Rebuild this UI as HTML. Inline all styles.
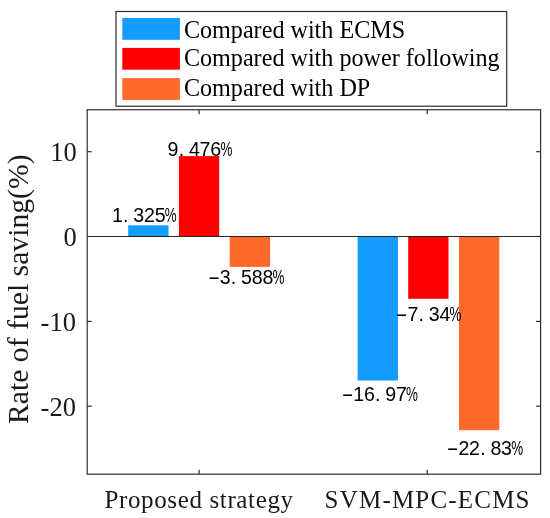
<!DOCTYPE html>
<html>
<head>
<meta charset="utf-8">
<title>Rate of fuel saving</title>
<style>
html,body{margin:0;padding:0;background:#fff;}
body{width:550px;height:518px;overflow:hidden;position:relative;}
svg{position:absolute;left:0;top:0;display:block;}
.serif{font-family:"Liberation Serif","Times New Roman",serif;fill:#1a1a1a;font-kerning:none;}
.tick{font-size:26.5px;}
.xtick{font-size:25px;}
.leg{font-size:24.15px;fill:#000;}
.ylab{font-size:29.7px;}
.val{font-family:"Liberation Sans",Arial,sans-serif;font-size:19.6px;fill:#000;}
</style>
</head>
<body>
<svg width="550" height="518" viewBox="0 0 550 518">
  <rect x="0" y="0" width="550" height="518" fill="#ffffff"/>

  <!-- bars -->
  <rect x="128.2" y="225.3" width="40.3" height="11.2" fill="#149cff"/>
  <rect x="178.9" y="156.1" width="40.3" height="80.4" fill="#ff0000"/>
  <rect x="229.7" y="236.5" width="40.3" height="30.4" fill="#ff6a2b"/>
  <rect x="357.6" y="236.5" width="40.3" height="144.0" fill="#149cff"/>
  <rect x="408.2" y="236.5" width="40.3" height="62.3" fill="#ff0000"/>
  <rect x="459.0" y="236.5" width="40.3" height="193.7" fill="#ff6a2b"/>

  <!-- axes box, zero line and ticks -->
  <g stroke="#262626" stroke-width="1.15" fill="none">
    <rect x="87.2" y="109.75" width="453.4" height="364.4"/>
    <line x1="87.2" y1="236.5" x2="540.6" y2="236.5"/>
    <line x1="87.2" y1="151.7" x2="91.7" y2="151.7"/>
    <line x1="87.2" y1="321.4" x2="91.7" y2="321.4"/>
    <line x1="87.2" y1="406.2" x2="91.7" y2="406.2"/>
    <line x1="540.6" y1="151.7" x2="536.1" y2="151.7"/>
    <line x1="540.6" y1="236.5" x2="536.1" y2="236.5"/>
    <line x1="540.6" y1="321.4" x2="536.1" y2="321.4"/>
    <line x1="540.6" y1="406.2" x2="536.1" y2="406.2"/>
    <line x1="199.1" y1="474.2" x2="199.1" y2="469.7"/>
    <line x1="199.1" y1="109.75" x2="199.1" y2="114.25"/>
    <line x1="427.2" y1="474.2" x2="427.2" y2="469.7"/>
    <line x1="427.2" y1="109.75" x2="427.2" y2="114.25"/>
  </g>

  <!-- y tick labels -->
  <g class="serif tick" text-anchor="end">
    <text x="76.8" y="161">10</text>
    <text x="76.8" y="246">0</text>
    <text x="75.9" y="331">-10</text>
    <text x="75.9" y="416">-20</text>
  </g>

  <!-- x tick labels -->
  <g class="serif xtick">
    <text x="104.4" y="507.8" style="letter-spacing:0.64px">Proposed strategy</text>
    <text x="324.6" y="507.9" style="letter-spacing:1.2px">SVM-MPC-ECMS</text>
  </g>

  <!-- y axis label -->
  <text class="serif ylab" text-anchor="middle" transform="translate(28.3,289.2) rotate(-90)">Rate of fuel saving(%)</text>

  <!-- legend -->
  <rect x="116" y="11.5" width="390.7" height="94.7" fill="#ffffff" stroke="#262626" stroke-width="1.15"/>
  <rect x="122.3" y="18" width="57.6" height="21.8" fill="#149cff"/>
  <rect x="122.3" y="47.9" width="57.6" height="21.8" fill="#ff0000"/>
  <rect x="122.3" y="78.1" width="57.6" height="21.8" fill="#ff6a2b"/>
  <g class="serif leg">
    <text x="183.9" y="37.5">Compared with ECMS</text>
    <text x="183.9" y="66.4">Compared with power following</text>
    <text x="183.9" y="95.6">Compared with DP</text>
  </g>

  <!-- value labels -->
  <g class="val">
    <text y="222.4"><tspan x="112.0 123.1 133.3 144.0 154.7">1.325</tspan><tspan x="164.8" textLength="11.9" lengthAdjust="spacingAndGlyphs">%</tspan></text>
    <text y="155.5"><tspan x="167.6 178.7 188.9 199.6 210.3">9.476</tspan><tspan x="220.4" textLength="11.9" lengthAdjust="spacingAndGlyphs">%</tspan></text>
    <text y="283.8"><tspan x="207.9" textLength="12.2" lengthAdjust="spacingAndGlyphs">-</tspan><tspan x="219.8 230.8 241.1 251.8 262.4">3.588</tspan><tspan x="272.6" textLength="11.9" lengthAdjust="spacingAndGlyphs">%</tspan></text>
    <text y="401.3"><tspan x="341.4" textLength="12.2" lengthAdjust="spacingAndGlyphs">-</tspan><tspan x="353.3 363.9 375.0 385.3 395.9">16.97</tspan><tspan x="406.1" textLength="11.9" lengthAdjust="spacingAndGlyphs">%</tspan></text>
    <text y="321.2"><tspan x="395.6" textLength="12.2" lengthAdjust="spacingAndGlyphs">-</tspan><tspan x="407.5 418.5 428.8 439.5">7.34</tspan><tspan x="449.6" textLength="11.9" lengthAdjust="spacingAndGlyphs">%</tspan></text>
    <text y="454.7"><tspan x="446.6" textLength="12.2" lengthAdjust="spacingAndGlyphs">-</tspan><tspan x="458.4 469.1 480.2 490.4 501.1">22.83</tspan><tspan x="511.2" textLength="11.9" lengthAdjust="spacingAndGlyphs">%</tspan></text>
  </g>
</svg>
</body>
</html>
